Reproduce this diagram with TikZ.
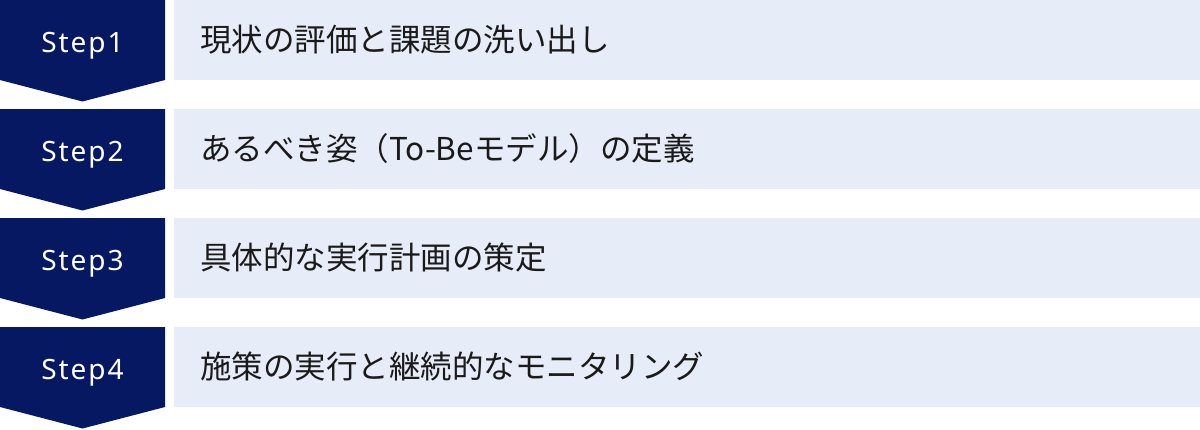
\documentclass[tikz,border=0pt]{standalone}
\usepackage{fontspec}
\setmainfont{Noto Sans}
\newfontfamily\jpfont{Noto Sans CJK JP}
\newfontfamily\stepfont[LetterSpace=7]{Noto Sans}
\definecolor{navy}{HTML}{061862}
\definecolor{lightbg}{HTML}{E6ECF8}
\definecolor{txt}{HTML}{1A1A1A}
\tikzset{
  stepshape/.style={fill=navy, draw=none},
  panel/.style={fill=lightbg, draw=none},
  steplabel/.style={text=white, font=\stepfont\fontsize{28}{30}\selectfont, inner sep=0pt, anchor=base},
  panellabel/.style={text=txt, font=\jpfont\fontsize{31.5}{34}\selectfont, inner sep=0pt, anchor=base west},
}
\begin{document}
\begin{tikzpicture}[x=1pt,y=-1pt]
\useasboundingbox (0,0) rectangle (1200,429);
\foreach \i/\t in {1/現状の評価と課題の洗い出し,2/あるべき姿（To-Beモデル）の定義,3/具体的な実行計画の策定,4/施策の実行と継続的なモニタリング}{
  \pgfmathsetmacro{\top}{109*(\i-1)}
  \fill[stepshape] (0,\top) -- (165,\top) -- (165,\top+80) -- (82.5,\top+101.5) -- (0,\top+80) -- cycle;
  \fill[panel] (174,\top) rectangle (1200,\top+80);
  \node[steplabel] (s\i) at (82.5,\top+52.5) {Step\i};
  \node[panellabel] (p\i) at (200,\top+51.5) {\t};
}
\end{tikzpicture}
\end{document}
